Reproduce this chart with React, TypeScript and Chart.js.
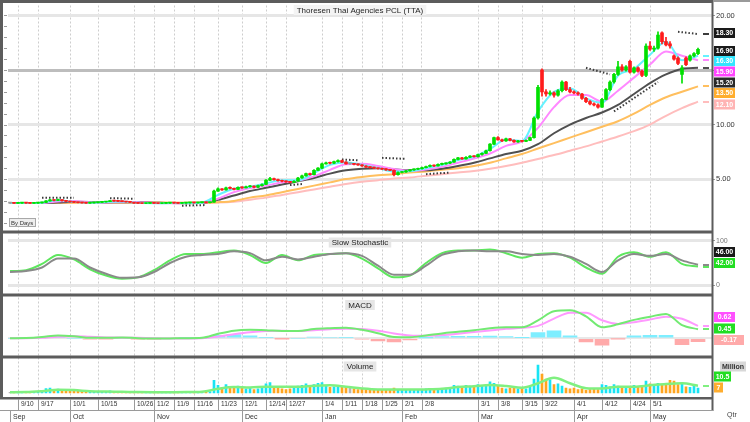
import React, { useEffect, useRef } from "react";
import { Chart, registerables } from "chart.js";

Chart.register(...registerables);

const FONT = "'Liberation Sans', 'DejaVu Sans', Arial, sans-serif";
Chart.defaults.font.family = FONT;

const TITLE = "Thoresen Thai Agencies PCL (TTA)";
const STOCH_TITLE = "Slow Stochastic";
const MACD_TITLE = "MACD";
const VOLUME_TITLE = "Volume";
const PERIOD_LABEL = "By Days";
const VOLUME_UNIT = "Million";
const FREQ_LABEL = "Qtr";

// Daily candles (trading-day index 0..172)
const opens = [
  2.80, 2.80, 2.78, 2.80, 2.82, 2.80, 2.78, 2.80, 2.82, 2.86,
  3.00, 3.08, 3.04, 3.10, 3.02, 2.96, 2.90, 2.86, 2.84, 2.82,
  2.80, 2.82, 2.84, 2.86, 2.90, 2.94, 3.00, 2.98, 2.96, 2.94,
  2.90, 2.86, 2.80, 2.78, 2.76, 2.78, 2.80, 2.78, 2.76, 2.78,
  2.80, 2.82, 2.80, 2.78, 2.80, 2.82, 2.84, 2.82, 2.84, 2.86,
  2.84, 2.88, 3.90, 4.10, 4.00, 4.20, 4.15, 4.05, 4.25, 4.20,
  4.30, 4.35, 4.25, 4.40, 4.50, 4.90, 5.05, 4.95, 4.85, 4.80,
  4.75, 4.70, 4.80, 5.10, 5.30, 5.50, 5.40, 5.80, 6.00, 6.40,
  6.50, 6.45, 6.60, 6.70, 6.55, 6.40, 6.40, 6.35, 6.30, 6.20,
  6.10, 6.05, 6.00, 5.95, 5.90, 5.85, 5.80, 5.40, 5.60, 5.65,
  5.75, 5.85, 5.90, 5.95, 6.05, 6.15, 6.25, 6.20, 6.35, 6.40,
  6.45, 6.55, 6.80, 6.95, 6.85, 7.00, 7.10, 7.05, 7.25, 7.35,
  7.60, 8.20, 8.80, 8.60, 8.50, 8.70, 8.55, 8.40, 8.50, 8.45,
  8.55, 8.80, 10.60, 15.00, 13.00, 12.80, 12.90, 12.70, 13.10, 13.90,
  13.20, 13.00, 12.90, 12.80, 12.40, 12.10, 11.90, 11.80, 11.60, 12.30,
  13.20, 13.90, 14.60, 15.30, 15.00, 15.80, 14.80, 15.20, 14.90, 14.50,
  17.20, 16.90, 17.00, 18.40, 17.60, 17.40, 16.30, 16.10, 14.60, 16.10,
  15.90, 16.30, 16.50,
];
const highs = [
  2.84, 2.82, 2.82, 2.84, 2.84, 2.82, 2.82, 2.84, 2.90, 3.04,
  3.14, 3.12, 3.16, 3.12, 3.04, 2.98, 2.92, 2.88, 2.86, 2.84,
  2.84, 2.86, 2.88, 2.92, 2.96, 3.04, 3.02, 3.00, 2.98, 2.96,
  2.92, 2.88, 2.82, 2.80, 2.80, 2.82, 2.82, 2.80, 2.80, 2.82,
  2.84, 2.84, 2.82, 2.82, 2.84, 2.86, 2.86, 2.86, 2.88, 2.88,
  2.88, 4.00, 4.20, 4.14, 4.26, 4.30, 4.18, 4.30, 4.30, 4.36,
  4.42, 4.38, 4.46, 4.56, 4.96, 5.15, 5.10, 5.00, 4.90, 4.84,
  4.80, 4.86, 5.16, 5.36, 5.56, 5.56, 5.86, 6.06, 6.46, 6.56,
  6.56, 6.66, 6.76, 6.74, 6.60, 6.46, 6.44, 6.40, 6.34, 6.24,
  6.14, 6.10, 6.04, 6.00, 5.96, 5.90, 5.84, 5.66, 5.70, 5.80,
  5.90, 5.94, 6.00, 6.10, 6.20, 6.30, 6.30, 6.40, 6.46, 6.50,
  6.60, 6.86, 7.00, 7.00, 7.06, 7.16, 7.16, 7.30, 7.40, 7.66,
  8.26, 8.86, 8.90, 8.66, 8.76, 8.74, 8.60, 8.56, 8.54, 8.60,
  8.86, 10.70, 13.60, 15.10, 13.20, 13.10, 13.00, 13.20, 14.00, 13.96,
  13.40, 13.10, 13.00, 12.86, 12.50, 12.20, 12.00, 11.90, 12.40, 13.30,
  14.00, 14.70, 15.80, 15.50, 15.40, 15.90, 15.30, 15.30, 15.00, 17.40,
  17.60, 17.20, 18.50, 18.50, 18.00, 17.60, 16.40, 16.20, 15.40, 16.20,
  16.40, 16.60, 17.00,
];
const lows = [
  2.78, 2.76, 2.76, 2.78, 2.78, 2.76, 2.76, 2.78, 2.80, 2.84,
  2.98, 3.00, 3.02, 2.98, 2.94, 2.88, 2.84, 2.82, 2.80, 2.78,
  2.78, 2.80, 2.82, 2.84, 2.88, 2.92, 2.96, 2.94, 2.92, 2.88,
  2.84, 2.78, 2.76, 2.74, 2.74, 2.76, 2.76, 2.74, 2.74, 2.76,
  2.78, 2.78, 2.76, 2.76, 2.78, 2.80, 2.80, 2.80, 2.82, 2.82,
  2.82, 2.86, 3.86, 3.96, 3.98, 4.10, 4.00, 4.02, 4.14, 4.18,
  4.26, 4.20, 4.22, 4.36, 4.48, 4.86, 4.90, 4.80, 4.74, 4.70,
  4.64, 4.66, 4.78, 5.06, 5.26, 5.36, 5.38, 5.76, 5.96, 6.36,
  6.40, 6.42, 6.56, 6.50, 6.36, 6.34, 6.30, 6.26, 6.16, 6.06,
  6.00, 5.96, 5.90, 5.86, 5.80, 5.76, 5.30, 5.36, 5.56, 5.62,
  5.72, 5.80, 5.86, 5.92, 6.02, 6.12, 6.14, 6.18, 6.30, 6.36,
  6.42, 6.52, 6.76, 6.80, 6.82, 6.96, 7.00, 7.02, 7.20, 7.32,
  7.56, 8.16, 8.56, 8.44, 8.46, 8.50, 8.36, 8.36, 8.40, 8.42,
  8.52, 8.76, 10.50, 12.60, 12.60, 12.70, 12.50, 12.60, 13.00, 13.10,
  12.90, 12.80, 12.70, 12.30, 12.00, 11.80, 11.70, 11.50, 11.56, 12.26,
  13.10, 13.80, 14.50, 14.90, 14.90, 14.70, 14.70, 14.80, 14.40, 14.40,
  16.80, 16.70, 16.90, 17.40, 17.20, 17.00, 15.90, 15.50, 13.80, 15.40,
  15.80, 16.20, 16.40,
];
const closes = [
  2.80, 2.78, 2.80, 2.82, 2.80, 2.78, 2.80, 2.82, 2.86, 3.00,
  3.08, 3.04, 3.10, 3.02, 2.96, 2.90, 2.86, 2.84, 2.82, 2.80,
  2.82, 2.84, 2.86, 2.90, 2.94, 3.00, 2.98, 2.96, 2.94, 2.90,
  2.86, 2.80, 2.78, 2.76, 2.78, 2.80, 2.78, 2.76, 2.78, 2.80,
  2.82, 2.80, 2.78, 2.80, 2.82, 2.84, 2.82, 2.84, 2.86, 2.84,
  2.86, 3.90, 4.10, 4.00, 4.20, 4.15, 4.05, 4.25, 4.20, 4.30,
  4.35, 4.25, 4.40, 4.50, 4.90, 5.05, 4.95, 4.85, 4.80, 4.75,
  4.70, 4.80, 5.10, 5.30, 5.50, 5.40, 5.80, 6.00, 6.40, 6.50,
  6.45, 6.60, 6.70, 6.55, 6.40, 6.40, 6.35, 6.30, 6.20, 6.10,
  6.05, 6.00, 5.95, 5.90, 5.85, 5.80, 5.40, 5.60, 5.65, 5.75,
  5.85, 5.90, 5.95, 6.05, 6.15, 6.25, 6.20, 6.35, 6.40, 6.45,
  6.55, 6.80, 6.95, 6.85, 7.00, 7.10, 7.05, 7.25, 7.35, 7.60,
  8.20, 8.80, 8.60, 8.50, 8.70, 8.55, 8.40, 8.50, 8.45, 8.55,
  8.80, 10.60, 13.40, 13.00, 12.80, 12.90, 12.70, 13.10, 13.90, 13.20,
  13.00, 12.90, 12.80, 12.40, 12.10, 11.90, 11.80, 11.60, 12.30, 13.20,
  13.90, 14.60, 15.30, 15.00, 15.30, 14.80, 15.20, 14.90, 14.50, 17.20,
  16.90, 17.00, 18.20, 17.60, 17.30, 17.20, 16.00, 15.60, 15.20, 15.50,
  16.30, 16.50, 16.90,
];
// Daily volume, millions of shares
const volumes = [
  1.0, 0.8, 1.2, 1.5, 0.9, 1.1, 1.3, 1.6, 2.5, 6.5,
  7.0, 4.5, 5.5, 4.0, 3.5, 3.0, 2.8, 3.5, 2.5, 1.5,
  1.2, 1.8, 2.0, 2.2, 2.5, 3.0, 2.0, 1.6, 1.5, 1.4,
  1.2, 1.0, 1.2, 0.8, 1.0, 1.3, 1.1, 0.9, 1.0, 1.2,
  1.4, 1.0, 1.1, 0.9, 1.2, 1.6, 1.8, 1.5, 2.0, 1.7,
  2.2, 18, 11, 8, 12, 9, 7, 10, 8, 6,
  7, 5, 6, 9, 13, 15, 9, 7, 6, 5,
  6, 7, 10, 11, 13, 9, 12, 14, 15, 10,
  8, 9, 10, 8, 9, 7, 6, 5, 6, 5,
  6, 5, 4, 5, 4, 5, 7, 5, 4, 5,
  4, 5, 4, 5, 6, 5, 6, 5, 6, 7,
  8, 11, 10, 9, 11, 10, 9, 12, 10, 11,
  16, 14, 11, 7, 6, 7, 8, 6, 7, 6,
  9, 20, 40, 27, 20, 19, 12, 13, 10, 7,
  6, 7, 5, 6, 4, 5, 6, 5, 12, 11,
  9, 12, 10, 8, 9, 7, 11, 9, 8, 17,
  13, 11, 14, 12, 13, 18, 17, 12, 15, 9,
  8, 10, 7,
];

// Indicator readings, every 4th trading day
const indDays = [
  0, 4, 8, 12, 16, 20, 24, 28, 32, 36,
  40, 44, 48, 52, 56, 60, 64, 68, 72, 76,
  80, 84, 88, 92, 96, 100, 104, 108, 112, 116,
  120, 124, 128, 132, 136, 140, 144, 148, 152, 156,
  160, 164, 168, 172,
];
const maFast = [
  2.80, 2.80, 2.84, 3.05, 2.92, 2.82, 2.90, 2.95, 2.82, 2.79,
  2.80, 2.81, 2.84, 3.55, 4.12, 4.28, 4.60, 4.90, 4.90, 5.55,
  6.30, 6.55, 6.30, 6.02, 5.70, 5.72, 6.00, 6.30, 6.75, 7.05,
  7.75, 8.62, 8.50, 11.2, 13.0, 13.3, 12.4, 12.0, 14.5, 15.1,
  16.4, 17.6, 15.9, 16.3,
];
const maMid = [
  2.80, 2.80, 2.81, 2.95, 2.98, 2.88, 2.86, 2.93, 2.88, 2.80,
  2.79, 2.80, 2.82, 3.20, 3.80, 4.18, 4.40, 4.70, 4.85, 5.25,
  5.85, 6.35, 6.40, 6.20, 5.92, 5.75, 5.88, 6.12, 6.50, 6.88,
  7.35, 8.05, 8.45, 9.70, 11.6, 12.7, 12.7, 12.1, 13.1, 14.3,
  15.5, 16.7, 16.3, 15.9,
];
const maTrend = [
  2.80, 2.80, 2.80, 2.86, 2.92, 2.90, 2.86, 2.88, 2.88, 2.84,
  2.80, 2.79, 2.82, 3.10, 3.50, 3.90, 4.20, 4.50, 4.80, 5.10,
  5.50, 5.80, 5.95, 6.00, 5.90, 5.80, 5.80, 5.95, 6.20, 6.50,
  6.90, 7.30, 7.60, 8.20, 9.20, 10.0, 10.6, 11.1, 11.8, 12.8,
  13.8, 14.6, 15.1, 15.2,
];
const maSlow = [
  2.80, 2.80, 2.80, 2.82, 2.84, 2.85, 2.85, 2.86, 2.86, 2.85,
  2.84, 2.83, 2.83, 2.88, 3.00, 3.30, 3.50, 3.80, 4.10, 4.40,
  4.70, 5.00, 5.20, 5.35, 5.45, 5.60, 5.70, 5.85, 6.00, 6.20,
  6.50, 6.90, 7.30, 7.80, 8.30, 8.80, 9.30, 9.80, 10.3, 11.0,
  11.8, 12.5, 13.0, 13.5,
];
const maLong = [
  2.80, 2.80, 2.80, 2.81, 2.82, 2.83, 2.84, 2.84, 2.84, 2.84,
  2.84, 2.84, 2.84, 2.85, 2.92, 3.10, 3.30, 3.55, 3.80, 4.05,
  4.30, 4.55, 4.75, 4.90, 5.05, 5.15, 5.30, 5.45, 5.60, 5.75,
  5.95, 6.20, 6.50, 6.85, 7.20, 7.60, 8.00, 8.45, 8.90, 9.40,
  10.0, 10.8, 11.5, 12.1,
];
// Parabolic-SAR style dotted runs (null = break)
const sarDays = [8, 16, 17, 25, 31, 32, 43, 49, 50, 70, 73, 74, 83, 87, 88, 93, 99, 100, 104, 110, 111, 144, 150, 151, 151, 162, 163, 167, 172];
const sarValues = [3.30, 3.30, null, 3.25, 3.20, null, 2.56, 2.62, null, 4.45, 4.55, null, 6.80, 6.72, null, 6.95, 6.85, null, 5.45, 5.60, null, 15.2, 14.6, null, 11.2, 13.9, null, 18.5, 18.3];

const stochK = [
  32, 34, 48, 68, 58, 36, 22, 15, 18, 34,
  56, 70, 70, 74, 78, 68, 50, 68, 56, 68,
  70, 72, 60, 38, 18, 22, 50, 72, 78, 78,
  80, 72, 62, 70, 72, 62, 40, 26, 64, 74,
  64, 74, 48, 42,
];
const stochD = [
  30, 32, 40, 60, 60, 40, 26, 17, 18, 30,
  50, 64, 68, 70, 76, 72, 56, 64, 58, 64,
  70, 72, 66, 44, 24, 24, 44, 68, 76, 78,
  76, 76, 70, 68, 70, 64, 48, 30, 56, 70,
  66, 70, 56, 46,
];
const macdLine = [
  0.00, 0.01, 0.06, 0.14, 0.10, 0.02, 0.02, 0.04, 0.00, -0.02,
  -0.01, 0.00, 0.02, 0.22, 0.38, 0.42, 0.40, 0.36, 0.36, 0.46,
  0.50, 0.52, 0.42, 0.25, 0.06, 0.05, 0.14, 0.24, 0.32, 0.40,
  0.50, 0.55, 0.55, 0.90, 1.35, 1.40, 1.10, 0.55, 0.70, 0.92,
  1.08, 1.22, 0.66, 0.45,
];
const macdSignal = [
  0.00, 0.00, 0.02, 0.08, 0.10, 0.07, 0.04, 0.03, 0.02, 0.00,
  -0.01, -0.01, 0.00, 0.08, 0.20, 0.30, 0.36, 0.37, 0.36, 0.40,
  0.45, 0.48, 0.46, 0.38, 0.24, 0.14, 0.12, 0.16, 0.23, 0.31,
  0.39, 0.47, 0.52, 0.62, 0.98, 1.28, 1.28, 0.90, 0.72, 0.80,
  0.94, 1.08, 0.98, 0.62,
];
const macdHist = [
  0.00, 0.01, 0.04, 0.06, 0.00, -0.05, -0.02, 0.01, -0.02, -0.02,
  0.00, 0.01, 0.02, 0.14, 0.18, 0.12, 0.04, -0.01, 0.00, 0.06,
  0.05, 0.04, -0.04, -0.13, -0.18, -0.09, 0.02, 0.08, 0.09, 0.09,
  0.11, 0.08, 0.03, 0.28, 0.37, 0.12, -0.18, -0.35, -0.02, 0.12,
  0.14, 0.14, -0.32, -0.17,
];
const volumeAvg = [
  1.2, 1.3, 2.6, 4.8, 4.2, 2.6, 2.0, 1.7, 1.3, 1.1,
  1.2, 1.3, 1.8, 6.0, 8.5, 8.0, 9.0, 9.0, 8.8, 10.5,
  11.0, 9.0, 6.5, 5.2, 5.2, 5.0, 5.2, 6.0, 8.5, 9.8,
  11.5, 10.0, 7.5, 14.0, 22.0, 14.0, 7.0, 6.5, 9.0, 9.0,
  11.0, 13.0, 14.0, 10.5,
];

// Axis ticks
const tickDays = [2, 7, 15, 22, 31, 36, 41, 46, 52, 58, 64, 69, 78, 83, 88, 93, 98, 103, 117, 122, 128, 133, 141, 148, 155, 160];
const tickLabels = ["9/10", "9/17", "10/1", "10/15", "10/26", "11/2", "11/9", "11/16", "11/23", "12/1", "12/14", "12/27", "1/4", "1/11", "1/18", "1/25", "2/1", "2/8", "3/1", "3/8", "3/15", "3/22", "4/1", "4/12", "4/24", "5/1"];
const monthDays = [0, 15, 36, 58, 78, 98, 117, 141, 160];
const monthLabels = ["Sep", "Oct", "Nov", "Dec", "Jan", "Feb", "Mar", "Apr", "May"];
const priceTicks = [5, 10, 15, 20];
const priceTickLabels = ["5.00", "10.00", "", "20.00"];
const stochTicks = [0, 100];
const stochTickLabels = ["0", "100"];

const UP = "#00e000";
const DOWN = "#ff1c1c";
const FLAT = "#9a9a9a";

const last = (a: (number | null)[]) => a[a.length - 1] as number;

export default function App() {
  const ref = useRef<HTMLCanvasElement>(null);

  useEffect(() => {
    const canvas = ref.current;
    if (!canvas) return;

    const candleColors = closes.map((c, i) => (c > opens[i] ? UP : c < opens[i] ? DOWN : FLAT));
    const volColors = closes.map((c, i) => (c > opens[i] ? "#18e4f4" : c < opens[i] ? "#ffa51f" : "#b4b4b4"));
    const pts = (arr: number[]) => indDays.map((d, k) => ({ x: d, y: arr[k] }));
    const lineDs = (arr: number[], color: string, yAxisID: string, order: number, width = 2) => ({
      type: "line" as const,
      data: pts(arr),
      borderColor: color,
      borderWidth: width,
      pointRadius: 0,
      cubicInterpolationMode: "monotone" as const,
      xAxisID: "x",
      yAxisID,
      order,
    });

    const overlay = {
      id: "overlay",
      afterDraw(chart: any) {
        const { ctx, chartArea: ca, scales: s } = chart;
        ctx.save();
        const R = ca.right;
        // left minor ticks on price panel
        ctx.fillStyle = "#9a9a9a";
        for (let v = 1; v <= 20; v++) {
          const y = Math.round(s.yP.getPixelForValue(v));
          ctx.fillRect(4, y, 3, 1);
        }
        // frame and panel separators
        ctx.fillStyle = "#5c5c5c";
        ctx.fillRect(0, 0, R + 1, 3);
        ctx.fillRect(0, 0, 3, ca.bottom + 2);
        [s.yP.bottom, s.yS.bottom, s.yM.bottom].forEach((y: number) => ctx.fillRect(0, Math.round(y) - 1.5, R + 1, 3));
        ctx.fillRect(0, ca.bottom, R + 1, 2.5);
        ctx.fillRect(R - 0.5, 0, 2, s.x.bottom + 1);
        ctx.fillStyle = "#9a9a9a";
        ctx.fillRect(R + 1, 0, 750 - R, 2);
        // date rows
        ctx.fillStyle = "#9a9a9a";
        ctx.fillRect(0, Math.round(s.x.bottom), R + 1, 1);
        tickDays.forEach((d) => {
          const px = Math.round(s.x.getPixelForValue(d));
          ctx.fillRect(px, s.x.top + 2, 1, s.x.height - 2);
        });
        monthDays.forEach((d) => {
          const px = Math.round(s.xm.getPixelForValue(d));
          ctx.fillRect(px, s.xm.top, 1, s.xm.height);
        });

        const cx = (ca.left + ca.right) / 2;
        const title = (text: string, cy: number, bg: string) => {
          ctx.font = `8px ${FONT}`;
          const w = ctx.measureText(text).width + 6;
          ctx.fillStyle = bg;
          ctx.fillRect(cx - w / 2, cy - 5, w, 10);
          ctx.fillStyle = "#1e1e1e";
          ctx.textAlign = "center";
          ctx.textBaseline = "middle";
          ctx.fillText(text, cx, cy + 0.5);
        };
        title(TITLE, 10, "#f4f4f4");
        title(STOCH_TITLE, 242.5, "#e6e6e6");
        title(MACD_TITLE, 305, "#e6e6e6");
        title(VOLUME_TITLE, 366.5, "#e6e6e6");

        // period box
        ctx.fillStyle = "#eeeeee";
        ctx.fillRect(9, 218, 27, 9);
        ctx.strokeStyle = "#a8a8a8";
        ctx.lineWidth = 1;
        ctx.strokeRect(9.5, 218.5, 26, 8);
        ctx.fillStyle = "#333";
        ctx.font = `6px ${FONT}`;
        ctx.textAlign = "left";
        ctx.fillText(PERIOD_LABEL, 11, 223);

        // last-value markers inside plot
        const mark = (scale: any, v: number, color: string) => {
          ctx.fillStyle = color;
          ctx.fillRect(R - 9, Math.round(scale.getPixelForValue(v)) - 1, 6, 2);
        };
        mark(s.yP, last(sarValues), "#3c3c3c");
        mark(s.yP, last(maFast), "#66f2ff");
        mark(s.yP, last(maMid), "#ff88ff");
        mark(s.yP, last(maTrend), "#505050");
        mark(s.yP, last(maSlow), "#ffbf5e");
        mark(s.yP, last(maLong), "#ffbdbd");
        mark(s.yS, last(stochD), "#8a8a8a");
        mark(s.yS, last(stochK), "#5ee65e");
        mark(s.yM, last(macdLine), "#72ea72");
        mark(s.yM, last(macdSignal), "#ff99ff");
        mark(s.yV, last(volumeAvg), "#80f080");

        // right value boxes
        const box = (cy: number, bg: string, fg: string, text: string, w = 21, x = R + 2) => {
          ctx.fillStyle = bg;
          ctx.fillRect(x, cy - 5, w, 10);
          ctx.fillStyle = fg;
          ctx.font = `bold 7px ${FONT}`;
          ctx.textAlign = "center";
          ctx.textBaseline = "middle";
          ctx.fillText(text, x + w / 2, cy + 0.5);
        };
        box(33, "#1a1a1a", "#ffffff", last(sarValues).toFixed(2));
        box(51, "#1a1a1a", "#ffffff", last(closes).toFixed(2));
        box(61, "#33e6ff", "#ffffff", last(maFast).toFixed(2));
        box(71.5, "#ff44ff", "#ffffff", last(maMid).toFixed(2));
        box(82.5, "#2a2a2a", "#ffffff", last(maTrend).toFixed(2));
        box(93, "#ffad2e", "#ffffff", last(maSlow).toFixed(2));
        box(104.5, "#ffb4b4", "#ffffff", last(maLong).toFixed(2));
        box(252, "#1a1a1a", "#ffffff", last(stochD).toFixed(2));
        box(263, "#22dd22", "#ffffff", last(stochK).toFixed(2));
        box(317, "#ff50ff", "#ffffff", last(macdSignal).toFixed(2));
        box(328.5, "#22dd22", "#ffffff", last(macdLine).toFixed(2));
        box(340, "#ffaaaa", "#ffffff", last(macdHist).toFixed(2), 30);
        box(366.5, "#d8d8d8", "#333333", VOLUME_UNIT, 26, R + 8);
        box(376.5, "#22dd22", "#ffffff", last(volumeAvg).toFixed(1), 17);
        box(387.5, "#ffad2e", "#ffffff", String(last(volumes)), 9);

        ctx.fillStyle = "#444";
        ctx.font = `7px ${FONT}`;
        ctx.textAlign = "left";
        ctx.textBaseline = "middle";
        ctx.fillText(FREQ_LABEL, 727, 415);
        ctx.restore();
      },
    };

    const rightAxisFit = (sc: any) => {
      sc.width = 38;
    };

    const chart = new Chart(canvas, {
      type: "bar",
      data: {
        datasets: [
          {
            type: "bar",
            data: closes.map((c, i) => ({ x: i, y: [opens[i], c] })) as any,
            backgroundColor: candleColors,
            barThickness: 3,
            minBarLength: 1,
            grouped: false,
            xAxisID: "x",
            yAxisID: "yP",
            order: 0,
          },
          {
            type: "bar",
            data: closes.map((c, i) => ({ x: i, y: [lows[i], highs[i]] })) as any,
            backgroundColor: candleColors,
            barThickness: 1,
            grouped: false,
            xAxisID: "x",
            yAxisID: "yP",
            order: 1,
          },
          {
            type: "line",
            data: sarDays.map((d, k) => ({ x: d, y: sarValues[k] })) as any,
            borderColor: "#3c3c3c",
            borderWidth: 2,
            borderDash: [1.5, 2],
            pointRadius: 0,
            spanGaps: false,
            xAxisID: "x",
            yAxisID: "yP",
            order: 2,
          },
          lineDs(maFast, "#66f2ff", "yP", 3),
          lineDs(maMid, "#ff88ff", "yP", 4),
          lineDs(maTrend, "#505050", "yP", 5),
          lineDs(maSlow, "#ffbf5e", "yP", 6),
          lineDs(maLong, "#ffbdbd", "yP", 7),
          lineDs(stochD, "#8a8a8a", "yS", 8),
          lineDs(stochK, "#5ee65e", "yS", 9),
          lineDs(macdLine, "#72ea72", "yM", 10),
          lineDs(macdSignal, "#ff99ff", "yM", 11),
          {
            type: "bar",
            data: indDays.map((d, k) => ({ x: d, y: macdHist[k] })) as any,
            backgroundColor: macdHist.map((v) => (v >= 0 ? "#7eeeff" : "#ffaaaa")),
            barThickness: 14,
            grouped: false,
            xAxisID: "x",
            yAxisID: "yM",
            order: 12,
          },
          lineDs(volumeAvg, "#80f080", "yV", 13, 2.5),
          {
            type: "bar",
            data: volumes.map((v, i) => ({ x: i, y: v })) as any,
            backgroundColor: volColors,
            barThickness: 2,
            grouped: false,
            xAxisID: "x",
            yAxisID: "yV",
            order: 14,
          },
        ] as any,
      },
      options: {
        responsive: false,
        devicePixelRatio: 1,
        animation: false,
        events: [],
        layout: { padding: { left: 8, top: 4, right: 0, bottom: 0 } },
        plugins: { legend: { display: false }, tooltip: { enabled: false } },
        scales: {
          x: {
            type: "linear",
            position: "bottom",
            offset: false,
            weight: 1,
            min: -0.5,
            max: 175.5,
            afterBuildTicks: (sc: any) => {
              sc.ticks = tickDays.map((v) => ({ value: v }));
            },
            afterFit: (sc: any) => {
              sc.height = 13;
            },
            ticks: {
              callback: (_v: any, idx: number) => tickLabels[idx],
              align: "start",
              labelOffset: 3,
              padding: 3,
              autoSkip: false,
              maxRotation: 0,
              minRotation: 0,
              color: "#333",
              font: { family: FONT, size: 6.5 },
            },
            grid: { color: "#cdcdcd", lineWidth: 1, drawTicks: false, offset: false },
            border: { display: false, dash: [2, 2] },
          },
          xm: {
            type: "linear",
            position: "bottom",
            offset: false,
            weight: 2,
            min: -0.5,
            max: 175.5,
            afterBuildTicks: (sc: any) => {
              sc.ticks = monthDays.map((v) => ({ value: v }));
            },
            afterFit: (sc: any) => {
              sc.height = 12;
            },
            ticks: {
              callback: (_v: any, idx: number) => monthLabels[idx],
              align: "start",
              labelOffset: 3,
              padding: 3,
              autoSkip: false,
              maxRotation: 0,
              minRotation: 0,
              color: "#333",
              font: { family: FONT, size: 7 },
            },
            grid: { display: false, drawTicks: false, offset: false },
            border: { display: false },
          },
          yP: {
            type: "linear",
            position: "right",
            stack: "panels",
            stackWeight: 227.5,
            weight: 1,
            min: 0.137,
            max: 20.913,
            afterBuildTicks: (sc: any) => {
              sc.ticks = priceTicks.map((v) => ({ value: v }));
            },
            afterFit: rightAxisFit,
            ticks: {
              callback: (_v: any, idx: number) => priceTickLabels[idx],
              padding: 1,
              color: "#333",
              font: { family: FONT, size: 7.5 },
            },
            grid: {
              color: (c: any) => (c.tick && c.tick.value === 15 ? "#bdbdbd" : "#e6e6e6"),
              lineWidth: 3,
              tickLength: 3,
              tickColor: "#999",
              tickWidth: 1,
            },
            border: { display: false },
          },
          yS: {
            type: "linear",
            position: "right",
            stack: "panels",
            stackWeight: 63.5,
            weight: 2,
            min: -22.2,
            max: 118.9,
            afterBuildTicks: (sc: any) => {
              sc.ticks = stochTicks.map((v) => ({ value: v }));
            },
            afterFit: rightAxisFit,
            ticks: {
              callback: (_v: any, idx: number) => stochTickLabels[idx],
              padding: 1,
              color: "#777",
              font: { family: FONT, size: 7 },
            },
            grid: { color: "#e6e6e6", lineWidth: 3, tickLength: 3, tickColor: "#999", tickWidth: 1 },
            border: { display: false },
          },
          yM: {
            type: "linear",
            position: "right",
            stack: "panels",
            stackWeight: 61.5,
            weight: 3,
            min: -0.925,
            max: 2.15,
            afterBuildTicks: (sc: any) => {
              sc.ticks = [{ value: 0 }];
            },
            afterFit: rightAxisFit,
            ticks: { display: false },
            grid: { color: "#e8e8e8", lineWidth: 2, drawTicks: false },
            border: { display: false },
          },
          yV: {
            type: "linear",
            position: "right",
            stack: "panels",
            stackWeight: 40.5,
            weight: 4,
            min: -5.71,
            max: 52.1,
            afterFit: rightAxisFit,
            ticks: { display: false },
            grid: { display: false, drawTicks: false },
            border: { display: false },
          },
        } as any,
      },
      plugins: [overlay],
    });

    return () => chart.destroy();
  }, []);

  return (
    <div style={{ position: "fixed", left: 0, top: 0, width: 750, height: 422, background: "#ffffff" }}>
      <canvas ref={ref} width={750} height={422} style={{ display: "block", width: 750, height: 422 }} />
    </div>
  );
}
